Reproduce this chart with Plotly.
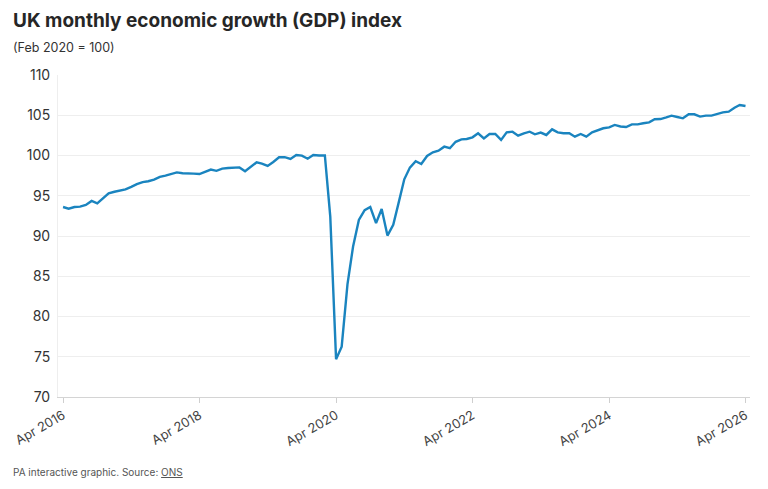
import pandas as pd
import plotly.graph_objects as go

# ---- data (monthly GDP index, Feb 2020 = 100) ----
start_month = "2016-04-01"
gdp_index = [
    93.6, 93.4, 93.6, 93.65, 93.85, 94.35, 94.06, 94.7, 95.3, 95.5, 95.7, 95.8,      # Apr16-Mar17
    96.1, 96.45, 96.7, 96.8, 97.0, 97.35, 97.5, 97.7, 97.9, 97.8, 97.8, 97.75,      # Apr17-Mar18
    97.7, 97.95, 98.25, 98.1, 98.37, 98.45, 98.5, 98.52, 98.04, 98.6, 99.15, 99.0,  # Apr18-Mar19
    98.7, 99.2, 99.78, 99.8, 99.57, 100.06, 99.98, 99.6, 100.06, 100.0, 100.0, 92.4,  # Apr19-Mar20
    74.7, 76.25, 84.0, 88.7, 92.0, 93.2, 93.6, 91.6, 93.35, 90.05, 91.4, 94.05,     # Apr20-Mar21
    97.04, 98.5, 99.3, 98.95, 99.94, 100.4, 100.6, 101.1, 100.9, 101.7, 102.0, 102.05,  # Apr21-Mar22
    102.26, 102.76, 102.13, 102.67, 102.67, 101.93, 102.88, 102.96, 102.46, 102.76, 102.96, 102.63,  # Apr22-Mar23
    102.84, 102.55, 103.25, 102.88, 102.76, 102.76, 102.34, 102.67, 102.34, 102.88, 103.17, 103.38,  # Apr23-Mar24
    103.5, 103.8, 103.6, 103.54, 103.87, 103.87, 104.0, 104.12, 104.5, 104.53, 104.74, 104.95,  # Apr24-Mar25
    104.78, 104.62, 105.12, 105.12, 104.83, 104.95, 104.95, 105.16, 105.36, 105.44, 105.94, 106.27,  # Apr25-Mar26
    106.15,  # Apr26
]
months = pd.date_range(start_month, periods=len(gdp_index), freq="MS")

tick_dates = ["2016-04-01", "2018-04-01", "2020-04-01", "2022-04-01", "2024-04-01", "2026-04-01"]
tick_labels = ["Apr 2016", "Apr 2018", "Apr 2020", "Apr 2022", "Apr 2024", "Apr 2026"]
y_ticks = [70, 75, 80, 85, 90, 95, 100, 105, 110]

title_text = "UK monthly economic growth (GDP) index"
subtitle_text = "(Feb 2020 = 100)"
footer_text = "PA interactive graphic. Source: <u>ONS</u>"

FONT = "Inter, Roboto, sans-serif"

fig = go.Figure()
fig.add_trace(go.Scatter(
    x=months, y=gdp_index, mode="lines",
    line=dict(color="#1a84bf", width=2.4),
    hoverinfo="x+y", showlegend=False,
))

L, R, T, B = 55, 18, 75, 92
W, H = 768, 489
pw, ph = W - L - R, H - T - B

def px_x(px):
    return (px - L) / pw

def px_y(py):
    return (H - B - py) / ph

fig.update_layout(
    width=W, height=H,
    margin=dict(l=L, r=R, t=T, b=B),
    paper_bgcolor="white", plot_bgcolor="white",
    font=dict(family=FONT, color="#333"),
    xaxis=dict(
        range=["2016-03-05", "2026-04-25"],
        tickvals=tick_dates, ticktext=tick_labels, tickangle=-30,
        tickfont=dict(size=13, color="#444"),
        ticks="outside", ticklen=5, tickcolor="#cfcfcf",
        showgrid=False, showline=True, linecolor="#d4d4d4", linewidth=1,
        zeroline=False, fixedrange=True,
    ),
    yaxis=dict(
        range=[70, 110], tickvals=y_ticks,
        tickfont=dict(size=14, color="#333"),
        showgrid=True, gridcolor="#eeeeee", gridwidth=1,
        showline=True, linecolor="#eeeeee",
        zeroline=False, ticks="", ticklabelstandoff=4, fixedrange=True,
    ),
    annotations=[
        dict(text=f"<b>{title_text}</b>", xref="paper", yref="paper",
             x=px_x(8), y=px_y(20), xanchor="left", yanchor="middle",
             showarrow=False, font=dict(size=19, color="#262626", family=FONT)),
        dict(text=subtitle_text, xref="paper", yref="paper",
             x=px_x(8), y=px_y(47), xanchor="left", yanchor="middle",
             showarrow=False, font=dict(size=12.5, color="#333", family=FONT)),
        dict(text=footer_text, xref="paper", yref="paper",
             x=px_x(8), y=px_y(472), xanchor="left", yanchor="middle",
             showarrow=False, font=dict(size=10, color="#555", family=FONT)),
    ],
)

fig.write_html("out.html")
